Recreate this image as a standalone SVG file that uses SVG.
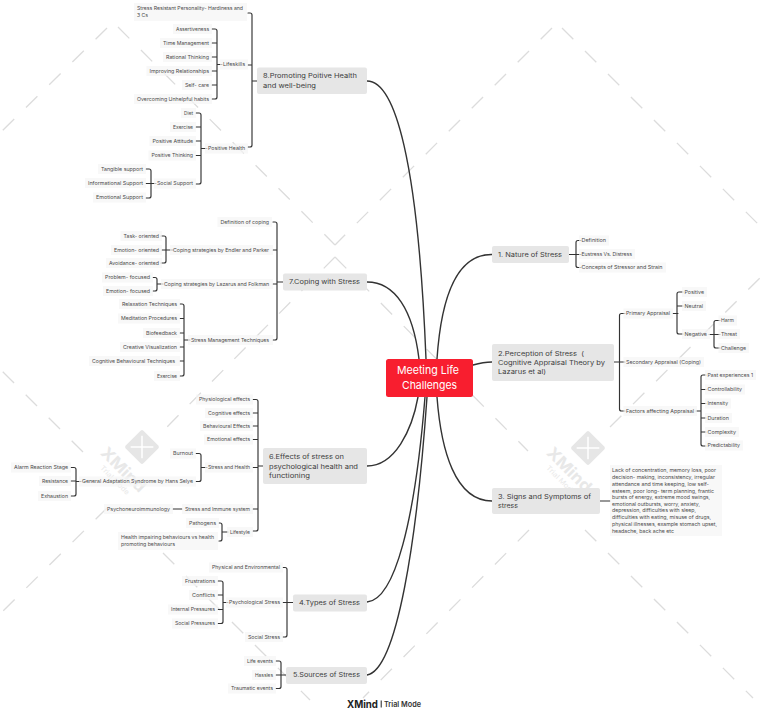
<svg xmlns="http://www.w3.org/2000/svg" width="768" height="713" viewBox="0 0 768 713">
<style>
text{font-family:"Inter","Noto Sans","DejaVu Sans",sans-serif;fill:#3a3a3a}
.s{font-size:4.900px;fill:#4a4a4a}
.t{font-size:6.700px;fill:#3c3c3c}
.b{fill:#f5f5f5;fill-opacity:.7}
.m{fill:#e6e6e6}
.c{fill:none;stroke:#333;stroke-width:1.150;stroke-linecap:round}
.k{fill:none;stroke:#333;stroke-width:1.400;stroke-linecap:round}
.w{fill:none;stroke:#dcdcdc;stroke-width:1.300;stroke-dasharray:16 16.500}
.wt{fill:#e8e8e8}
</style>
<rect width="768" height="713" fill="#fff"/>
<g id="watermark">
<path class="w" d="M107 28L-1 134"/>
<path class="w" d="M118 27L335 245"/>
<path class="w" d="M552 28L335 245"/>
<path class="w" d="M562 28L768 234"/>
<path class="w" style="stroke-dasharray:16 15.800" d="M335 257L167 427"/>
<path class="w" d="M335 257L528 451"/>
<path class="w" d="M83 452L0 369"/>
<path class="w" d="M107 508L0 614"/>
<path class="w" d="M163 553L310 700"/>
<path class="w" d="M610 427L768 270"/>
<path class="w" d="M529 530L363 698"/>
<path class="w" d="M585 530L753 698"/>
<g transform="translate(142 447) rotate(45)"><rect x="-12.500" y="-12.500" width="25" height="25" rx="2" fill="#e6e6e6"/><path d="M-8-8Q-1-1 8 8M-8 8Q0 0 8-8" stroke="#fff" stroke-width="1.500" fill="none"/></g>
<text class="wt" transform="translate(123 470) rotate(45)" text-anchor="middle" y="5" style="font-size:16px;font-weight:700" textLength="56" lengthAdjust="spacingAndGlyphs">XMind</text>
<text class="wt" transform="translate(115 480) rotate(45)" text-anchor="middle" y="2.500" style="font-size:7px" textLength="38" lengthAdjust="spacingAndGlyphs">Trial Mode</text>
<g transform="translate(588 448) rotate(45)"><rect x="-12.500" y="-12.500" width="25" height="25" rx="2" fill="#e6e6e6"/><path d="M-8-8Q-1-1 8 8M-8 8Q0 0 8-8" stroke="#fff" stroke-width="1.500" fill="none"/></g>
<text class="wt" transform="translate(569 470) rotate(45)" text-anchor="middle" y="5" style="font-size:16px;font-weight:700" textLength="56" lengthAdjust="spacingAndGlyphs">XMind</text>
<text class="wt" transform="translate(561 480) rotate(45)" text-anchor="middle" y="2.500" style="font-size:7px" textLength="38" lengthAdjust="spacingAndGlyphs">Trial Mode</text>
</g>
<g id="connectors">
<path class="k" d="M437 359C441 300 455 254 492 254.500"/>
<path class="k" d="M473 365C480 363 484 362 492 362"/>
<path class="k" d="M437 397C441 450 455 501 492 501"/>
<path class="k" d="M367 81C395 81 418 160 426 359"/>
<path class="k" d="M367 282C395 282 413 310 419 359"/>
<path class="k" d="M367 466C395 466 412 430 418 397"/>
<path class="k" d="M367 602C395 600 415 520 425 397"/>
<path class="k" d="M367 675C397 670 417 540 427 397"/>
<path class="c" d="M248 13h2q2 0 2 2V145q0 2-2 2h-2M248 65h4M252 81h5"/>
<path class="c" d="M212 29h3q2 0 2 2V97q0 2-2 2h-3M212 43h5M212 57h5M212 71h5M212 85h5M217 64.500h5"/>
<path class="c" d="M196 113h3q2 0 2 2V182q0 2-2 2h-3M196 127h5M196 141h5M196 155.500h5M201 148.500h6"/>
<path class="c" d="M146 169h3q2 0 2 2V196q0 2-2 2h-3M146 183.500h10"/>
<path class="c" d="M273 222h2q2 0 2 2V338q0 2-2 2h-2M273 250h4M273 284h4M277 282h6"/>
<path class="c" d="M161 236h3q2 0 2 2V261q0 2-2 2h-3M162 250h11"/>
<path class="c" d="M153 277.500h2q2 0 2 2V289q0 2-2 2h-2M157 284h6"/>
<path class="c" d="M180 304h2q2 0 2 2V374q0 2-2 2h-2M180 318.500h4M180 333h4M180 347h4M180 361h4M184 340h6"/>
<path class="c" d="M253 399.500h3q2 0 2 2V529q0 2-2 2h-3M253 413h5M253 426h5M253 439.500h5M253 467.500h5M253 509h5M258 466h5"/>
<path class="c" d="M196 453.500h3q2 0 2 2V479.500q0 2-2 2h-3M201 467.500h6"/>
<path class="c" d="M71 467.500h3q2 0 2 2V494q0 2-2 2h-3M71 481h5M76 481.500h5"/>
<path class="c" d="M173 509h9"/>
<path class="c" d="M219 523h1q2 0 2 2V539q0 2-2 2h-1M222 532h6"/>
<path class="c" d="M283 567.500h2q2 0 2 2V635q0 2-2 2h-2M283 602.500h10"/>
<path class="c" d="M218 581h3q2 0 2 2V621.500q0 2-2 2h-3M218 595h5M218 609.500h5M223 602.500h5"/>
<path class="c" d="M276 661h3q2 0 2 2V686.500q0 2-2 2h-3M276 675h10"/>
<path class="c" d="M569 254.500h12M581 240.500h-3q-2 0-2 2V265.500q0 2 2 2h3"/>
<path class="c" d="M614 362h11M625 313.500h-3.500q-2 0-2 2V409q0 2 2 2h3.500"/>
<path class="c" d="M673 313.500h5M683 292h-4q-2 0-2 2V332q0 2 2 2h4M677 306h6"/>
<path class="c" d="M709 334.500h11M720 320.500h-4q-2 0-2 2V346q0 2 2 2h4"/>
<path class="c" d="M696 411h5M706 375h-3q-2 0-2 2V444q0 2 2 2h3M701 389.500h5M701 403.500h5M701 418h5M701 432h5"/>
<path class="c" d="M600 501h10"/>
</g>
<g id="center"><rect x="386" y="359" width="87" height="38" rx="2.500" fill="#f81e2f"/><text x="397" y="374" textLength="62" lengthAdjust="spacingAndGlyphs" style="font-size:11px;fill:#fff">Meeting Life</text><text x="402" y="388.500" textLength="55" lengthAdjust="spacingAndGlyphs" style="font-size:11px;fill:#fff">Challenges</text></g>
<g id="topic1"><rect class="m" x="492" y="246" width="77" height="17" rx="2"/><text class="t" x="498" y="257" textLength="64" lengthAdjust="spacingAndGlyphs">1. Nature of Stress</text></g>
<g id="topic2"><rect class="m" x="492" y="344" width="122" height="37" rx="2"/><text class="t" xml:space="preserve" x="498" y="355.500" textLength="86" lengthAdjust="spacingAndGlyphs">2.Perception of Stress  (</text><text class="t" x="498" y="364.500" textLength="107" lengthAdjust="spacingAndGlyphs">Cognitive Appraisal Theory by</text><text class="t" x="498" y="373.500" textLength="48" lengthAdjust="spacingAndGlyphs">Lazarus et al)</text></g>
<g id="topic3"><rect class="m" x="492" y="488" width="108" height="26" rx="2"/><text class="t" x="498" y="499" textLength="93" lengthAdjust="spacingAndGlyphs">3. Signs and Symptoms of</text><text class="t" x="498" y="508" textLength="20" lengthAdjust="spacingAndGlyphs">stress</text></g>
<g id="topic4"><rect class="m" x="293" y="594.500" width="74" height="17" rx="2"/><text class="t" x="299" y="605" textLength="61" lengthAdjust="spacingAndGlyphs">4.Types of Stress</text></g>
<g id="topic5"><rect class="m" x="286" y="667" width="81" height="17" rx="2"/><text class="t" x="293" y="677" textLength="67" lengthAdjust="spacingAndGlyphs">5.Sources of Stress</text></g>
<g id="topic6"><rect class="m" x="263" y="448" width="104" height="36" rx="2"/><text class="t" x="269" y="459" textLength="75" lengthAdjust="spacingAndGlyphs">6.Effects of stress on</text><text class="t" x="269" y="468.500" textLength="89" lengthAdjust="spacingAndGlyphs">psychological health and</text><text class="t" x="269" y="478" textLength="41" lengthAdjust="spacingAndGlyphs">functioning</text></g>
<g id="topic7"><rect class="m" x="283" y="273.500" width="84" height="17" rx="2"/><text class="t" x="289" y="284" textLength="71" lengthAdjust="spacingAndGlyphs">7.Coping with Stress</text></g>
<g id="topic8"><rect class="m" x="257" y="67.500" width="110" height="26.500" rx="2"/><text class="t" x="263" y="77.500" textLength="94" lengthAdjust="spacingAndGlyphs">8.Promoting Poitive Health</text><text class="t" x="263" y="88" textLength="53" lengthAdjust="spacingAndGlyphs">and well-being</text></g>
<g id="leaves-8">
<g id="l1"><rect class="b" x="134" y="3" width="113" height="18"/><text class="s" x="137" y="9.800" textLength="106" lengthAdjust="spacingAndGlyphs">Stress Resistant Personality- Hardiness and</text><text class="s" x="137" y="17.300" textLength="11" lengthAdjust="spacingAndGlyphs">3 Cs</text></g>
<g id="l2"><rect class="b" x="173" y="24" width="39" height="10"/><text class="s" x="176" y="30.800" textLength="33" lengthAdjust="spacingAndGlyphs">Assertiveness</text></g>
<g id="l3"><rect class="b" x="160" y="38" width="52" height="10"/><text class="s" x="163" y="44.800" textLength="46" lengthAdjust="spacingAndGlyphs">Time Management</text></g>
<g id="l4"><rect class="b" x="163" y="52" width="49" height="10"/><text class="s" x="166" y="58.800" textLength="43" lengthAdjust="spacingAndGlyphs">Rational Thinking</text></g>
<g id="l5"><rect class="b" x="146.500" y="66" width="65.500" height="10"/><text class="s" x="149.500" y="72.800" textLength="59.500" lengthAdjust="spacingAndGlyphs">Improving Relationships</text></g>
<g id="l6"><rect class="b" x="182" y="80" width="30" height="10"/><text class="s" x="185" y="86.800" textLength="24" lengthAdjust="spacingAndGlyphs">Self- care</text></g>
<g id="l7"><rect class="b" x="134" y="94" width="78" height="10"/><text class="s" x="137" y="100.800" textLength="72" lengthAdjust="spacingAndGlyphs">Overcoming Unhelpful habits</text></g>
<g id="l8"><rect class="b" x="220" y="59.500" width="28" height="10"/><text class="s" x="223" y="66.300" textLength="22" lengthAdjust="spacingAndGlyphs">Lifeskills</text></g>
<g id="l9"><rect class="b" x="205" y="143.500" width="43" height="10"/><text class="s" x="208" y="150.300" textLength="37" lengthAdjust="spacingAndGlyphs">Positive Health</text></g>
<g id="l10"><rect class="b" x="181" y="108" width="15" height="10"/><text class="s" x="184" y="114.800" textLength="9" lengthAdjust="spacingAndGlyphs">Diet</text></g>
<g id="l11"><rect class="b" x="170" y="122" width="26" height="10"/><text class="s" x="173" y="128.800" textLength="20" lengthAdjust="spacingAndGlyphs">Exercise</text></g>
<g id="l12"><rect class="b" x="149.500" y="136" width="46.500" height="10"/><text class="s" x="152.500" y="142.800" textLength="40.500" lengthAdjust="spacingAndGlyphs">Positive Attitude</text></g>
<g id="l13"><rect class="b" x="148.500" y="150.500" width="47.500" height="10"/><text class="s" x="151.500" y="157.300" textLength="41.500" lengthAdjust="spacingAndGlyphs">Positive Thinking</text></g>
<g id="l14"><rect class="b" x="154" y="178.500" width="42" height="10"/><text class="s" x="157" y="185.300" textLength="36" lengthAdjust="spacingAndGlyphs">Social Support</text></g>
<g id="l15"><rect class="b" x="98" y="164" width="48" height="10"/><text class="s" x="101" y="170.800" textLength="42" lengthAdjust="spacingAndGlyphs">Tangible support</text></g>
<g id="l16"><rect class="b" x="85" y="178" width="61" height="10"/><text class="s" x="88" y="184.800" textLength="55" lengthAdjust="spacingAndGlyphs">Informational Support</text></g>
<g id="l17"><rect class="b" x="93" y="192.500" width="53" height="10"/><text class="s" x="96" y="199.300" textLength="47" lengthAdjust="spacingAndGlyphs">Emotional Support</text></g>
</g>
<g id="leaves-7">
<g id="l18"><rect class="b" x="217.500" y="217" width="54.500" height="10"/><text class="s" x="220.500" y="223.800" textLength="48.500" lengthAdjust="spacingAndGlyphs">Definition of coping</text></g>
<g id="l19"><rect class="b" x="170" y="245" width="103" height="10"/><text class="s" x="173" y="251.800" textLength="96" lengthAdjust="spacingAndGlyphs">Coping strategies by Endler and Parker</text></g>
<g id="l20"><rect class="b" x="161" y="279" width="112" height="10"/><text class="s" x="164" y="285.800" textLength="105" lengthAdjust="spacingAndGlyphs">Coping strategies by Lazarus and Folkman</text></g>
<g id="l21"><rect class="b" x="188" y="335" width="85" height="10"/><text class="s" x="191" y="341.800" textLength="78" lengthAdjust="spacingAndGlyphs">Stress Management Techniques</text></g>
<g id="l22"><rect class="b" x="120.500" y="231" width="41.500" height="10"/><text class="s" x="123.500" y="237.800" textLength="35.500" lengthAdjust="spacingAndGlyphs">Task- oriented</text></g>
<g id="l23"><rect class="b" x="111" y="245" width="51" height="10"/><text class="s" x="114" y="251.800" textLength="45" lengthAdjust="spacingAndGlyphs">Emotion- oriented</text></g>
<g id="l24"><rect class="b" x="106" y="258" width="56" height="10"/><text class="s" x="109" y="264.800" textLength="50" lengthAdjust="spacingAndGlyphs">Avoidance- oriented</text></g>
<g id="l25"><rect class="b" x="102" y="272.500" width="51" height="10"/><text class="s" x="105" y="279.300" textLength="45" lengthAdjust="spacingAndGlyphs">Problem- focused</text></g>
<g id="l26"><rect class="b" x="103" y="286" width="50" height="10"/><text class="s" x="106" y="292.800" textLength="44" lengthAdjust="spacingAndGlyphs">Emotion- focused</text></g>
<g id="l27"><rect class="b" x="119" y="299" width="61" height="10"/><text class="s" x="122" y="305.800" textLength="55" lengthAdjust="spacingAndGlyphs">Relaxation Techniques</text></g>
<g id="l28"><rect class="b" x="118" y="313.500" width="62" height="10"/><text class="s" x="121" y="320.300" textLength="56" lengthAdjust="spacingAndGlyphs">Meditation Procedures</text></g>
<g id="l29"><rect class="b" x="143" y="328" width="37" height="10"/><text class="s" x="146" y="334.800" textLength="31" lengthAdjust="spacingAndGlyphs">Biofeedback</text></g>
<g id="l30"><rect class="b" x="120" y="342" width="60" height="10"/><text class="s" x="123" y="348.800" textLength="54" lengthAdjust="spacingAndGlyphs">Creative Visualization</text></g>
<g id="l31"><rect class="b" x="89" y="356" width="91" height="10"/><text class="s" x="92" y="362.800" textLength="83" lengthAdjust="spacingAndGlyphs">Cognitive Behavioural Techniques</text></g>
<g id="l32"><rect class="b" x="154" y="371" width="26" height="10"/><text class="s" x="157" y="377.800" textLength="20" lengthAdjust="spacingAndGlyphs">Exercise</text></g>
</g>
<g id="leaves-6">
<g id="l33"><rect class="b" x="196" y="394.500" width="57" height="10"/><text class="s" x="199" y="401.300" textLength="51" lengthAdjust="spacingAndGlyphs">Physiological effects</text></g>
<g id="l34"><rect class="b" x="205" y="408" width="48" height="10"/><text class="s" x="208" y="414.800" textLength="42" lengthAdjust="spacingAndGlyphs">Cognitive effects</text></g>
<g id="l35"><rect class="b" x="200" y="421" width="53" height="10"/><text class="s" x="203" y="427.800" textLength="47" lengthAdjust="spacingAndGlyphs">Behavioural Effects</text></g>
<g id="l36"><rect class="b" x="204" y="434.500" width="49" height="10"/><text class="s" x="207" y="441.300" textLength="43" lengthAdjust="spacingAndGlyphs">Emotional effects</text></g>
<g id="l37"><rect class="b" x="170" y="448.500" width="26" height="10"/><text class="s" x="173" y="455.300" textLength="20" lengthAdjust="spacingAndGlyphs">Burnout</text></g>
<g id="l38"><rect class="b" x="205" y="462.500" width="48" height="10"/><text class="s" x="208" y="469.300" textLength="42" lengthAdjust="spacingAndGlyphs">Stress and Health</text></g>
<g id="l39"><rect class="b" x="79" y="476.500" width="117" height="10"/><text class="s" x="82" y="483.300" textLength="111" lengthAdjust="spacingAndGlyphs">General Adaptation Syndrome by Hans Selye</text></g>
<g id="l40"><rect class="b" x="11" y="462.500" width="60" height="10"/><text class="s" x="14" y="469.300" textLength="54" lengthAdjust="spacingAndGlyphs">Alarm Reaction Stage</text></g>
<g id="l41"><rect class="b" x="39" y="476" width="32" height="10"/><text class="s" x="42" y="482.800" textLength="26" lengthAdjust="spacingAndGlyphs">Resistance</text></g>
<g id="l42"><rect class="b" x="38" y="491" width="33" height="10"/><text class="s" x="41" y="497.800" textLength="27" lengthAdjust="spacingAndGlyphs">Exhaustion</text></g>
<g id="l43"><rect class="b" x="104" y="504" width="69" height="10"/><text class="s" x="107" y="510.800" textLength="63" lengthAdjust="spacingAndGlyphs">Psychoneuroimmunology</text></g>
<g id="l44"><rect class="b" x="182" y="504" width="71" height="10"/><text class="s" x="185" y="510.800" textLength="65" lengthAdjust="spacingAndGlyphs">Stress and Immune system</text></g>
<g id="l45"><rect class="b" x="186" y="518" width="33" height="10"/><text class="s" x="189" y="524.800" textLength="27" lengthAdjust="spacingAndGlyphs">Pathogens</text></g>
<g id="l46"><rect class="b" x="118" y="532" width="100" height="18"/><text class="s" x="121" y="538.800" textLength="93" lengthAdjust="spacingAndGlyphs">Health impairing behaviours vs health</text><text class="s" x="121" y="546.300" textLength="54" lengthAdjust="spacingAndGlyphs">promoting behaviours</text></g>
<g id="l47"><rect class="b" x="227" y="527" width="26" height="10"/><text class="s" x="230" y="533.800" textLength="20" lengthAdjust="spacingAndGlyphs">Lifestyle</text></g>
</g>
<g id="leaves-4-5">
<g id="l48"><rect class="b" x="209" y="562.500" width="74" height="10"/><text class="s" x="212" y="569.300" textLength="68" lengthAdjust="spacingAndGlyphs">Physical and Environmental</text></g>
<g id="l49"><rect class="b" x="182" y="576" width="36" height="10"/><text class="s" x="185" y="582.800" textLength="30" lengthAdjust="spacingAndGlyphs">Frustrations</text></g>
<g id="l50"><rect class="b" x="189" y="590" width="29" height="10"/><text class="s" x="192" y="596.800" textLength="23" lengthAdjust="spacingAndGlyphs">Conflicts</text></g>
<g id="l51"><rect class="b" x="168" y="604.500" width="50" height="10"/><text class="s" x="171" y="611.300" textLength="44" lengthAdjust="spacingAndGlyphs">Internal Pressures</text></g>
<g id="l52"><rect class="b" x="172" y="618.500" width="46" height="10"/><text class="s" x="175" y="625.300" textLength="40" lengthAdjust="spacingAndGlyphs">Social Pressures</text></g>
<g id="l53"><rect class="b" x="226" y="597.500" width="57" height="10"/><text class="s" x="229" y="604.300" textLength="51" lengthAdjust="spacingAndGlyphs">Psychological Stress</text></g>
<g id="l54"><rect class="b" x="245" y="632" width="38" height="10"/><text class="s" x="248" y="638.800" textLength="32" lengthAdjust="spacingAndGlyphs">Social Stress</text></g>
<g id="l55"><rect class="b" x="244" y="656" width="32" height="10"/><text class="s" x="247" y="662.800" textLength="26" lengthAdjust="spacingAndGlyphs">Life events</text></g>
<g id="l56"><rect class="b" x="252" y="670" width="24" height="10"/><text class="s" x="255" y="676.800" textLength="18" lengthAdjust="spacingAndGlyphs">Hassles</text></g>
<g id="l57"><rect class="b" x="228" y="683.500" width="48" height="10"/><text class="s" x="231" y="690.300" textLength="42" lengthAdjust="spacingAndGlyphs">Traumatic events</text></g>
</g>
<g id="leaves-right">
<g id="r1"><rect class="b" x="579" y="235.500" width="30" height="10"/><text class="s" x="581.500" y="242.300" textLength="24.500" lengthAdjust="spacingAndGlyphs">Definition</text></g>
<g id="r2"><rect class="b" x="579" y="249" width="56" height="10"/><text class="s" x="581.500" y="255.800" textLength="50.500" lengthAdjust="spacingAndGlyphs">Eustress Vs. Distress</text></g>
<g id="r3"><rect class="b" x="579" y="262.500" width="87" height="10"/><text class="s" x="581.500" y="269.300" textLength="81" lengthAdjust="spacingAndGlyphs">Concepts of Stressor and Strain</text></g>
<g id="r4"><rect class="b" x="623.500" y="308.500" width="49.500" height="10"/><text class="s" x="626" y="315.300" textLength="44" lengthAdjust="spacingAndGlyphs">Primary Appraisal</text></g>
<g id="r5"><rect class="b" x="623.500" y="357" width="80.500" height="10"/><text class="s" x="626" y="363.800" textLength="75" lengthAdjust="spacingAndGlyphs">Secondary Appraisal (Coping)</text></g>
<g id="r6"><rect class="b" x="623.500" y="406" width="73.500" height="10"/><text class="s" x="626" y="412.800" textLength="68" lengthAdjust="spacingAndGlyphs">Factors affecting Appraisal</text></g>
<g id="r7"><rect class="b" x="682" y="287" width="25" height="10"/><text class="s" x="684.500" y="293.800" textLength="19.500" lengthAdjust="spacingAndGlyphs">Positive</text></g>
<g id="r8"><rect class="b" x="682" y="301" width="24" height="10"/><text class="s" x="684.500" y="307.800" textLength="18.500" lengthAdjust="spacingAndGlyphs">Neutral</text></g>
<g id="r9"><rect class="b" x="682" y="329" width="28" height="10"/><text class="s" x="684.500" y="335.800" textLength="22.500" lengthAdjust="spacingAndGlyphs">Negative</text></g>
<g id="r10"><rect class="b" x="718.500" y="315.500" width="18.500" height="10"/><text class="s" x="721" y="322.300" textLength="13" lengthAdjust="spacingAndGlyphs">Harm</text></g>
<g id="r11"><rect class="b" x="718.500" y="329" width="21.500" height="10"/><text class="s" x="721" y="335.800" textLength="16" lengthAdjust="spacingAndGlyphs">Threat</text></g>
<g id="r12"><rect class="b" x="718.500" y="343" width="30.500" height="10"/><text class="s" x="721" y="349.800" textLength="25" lengthAdjust="spacingAndGlyphs">Challenge</text></g>
<g id="r13"><rect class="b" x="705" y="370" width="51" height="10"/><text class="s" x="707.500" y="376.800" textLength="45.500" lengthAdjust="spacingAndGlyphs">Past experiences 1</text></g>
<g id="r14"><rect class="b" x="705" y="384.500" width="40" height="10"/><text class="s" x="707.500" y="391.300" textLength="34.500" lengthAdjust="spacingAndGlyphs">Controllability</text></g>
<g id="r15"><rect class="b" x="705" y="398.500" width="26" height="10"/><text class="s" x="707.500" y="405.300" textLength="20.500" lengthAdjust="spacingAndGlyphs">Intensity</text></g>
<g id="r16"><rect class="b" x="705" y="413" width="27" height="10"/><text class="s" x="707.500" y="419.800" textLength="21.500" lengthAdjust="spacingAndGlyphs">Duration</text></g>
<g id="r17"><rect class="b" x="705" y="427" width="34" height="10"/><text class="s" x="707.500" y="433.800" textLength="28.500" lengthAdjust="spacingAndGlyphs">Complexity</text></g>
<g id="r18"><rect class="b" x="705" y="440.500" width="38" height="10"/><text class="s" x="707.500" y="447.300" textLength="32.500" lengthAdjust="spacingAndGlyphs">Predictability</text></g>
<g id="r19"><rect class="b" x="610" y="465" width="112" height="71"/>
<text class="s" x="612" y="471.800" textLength="104" lengthAdjust="spacingAndGlyphs">Lack of concentration, memory loss, poor</text>
<text class="s" x="612" y="479" textLength="103" lengthAdjust="spacingAndGlyphs">decision- making, inconsistency, irregular</text>
<text class="s" x="612" y="485.500" textLength="97" lengthAdjust="spacingAndGlyphs">attendance and time keeping, low self-</text>
<text class="s" x="612" y="492.800" textLength="102" lengthAdjust="spacingAndGlyphs">esteem, poor long- term planning, frantic</text>
<text class="s" x="612" y="498.800" textLength="98" lengthAdjust="spacingAndGlyphs">bursts of energy, extreme mood swings,</text>
<text class="s" x="612" y="505.800" textLength="88" lengthAdjust="spacingAndGlyphs">emotional outbursts, worry, anxiety,</text>
<text class="s" x="612" y="511.800" textLength="84" lengthAdjust="spacingAndGlyphs">depression, difficulties with sleep,</text>
<text class="s" x="612" y="518.800" textLength="99" lengthAdjust="spacingAndGlyphs">difficulties with eating, misuse of drugs,</text>
<text class="s" x="612" y="525.500" textLength="105" lengthAdjust="spacingAndGlyphs">physical illnesses, example stomach upset,</text>
<text class="s" x="612" y="532.500" textLength="62" lengthAdjust="spacingAndGlyphs">headache, back ache etc</text></g>
</g>
<g id="footer">
<text x="347" y="707.500" textLength="31" lengthAdjust="spacingAndGlyphs" style="font-size:10px;font-weight:700;fill:#222">XMind</text>
<rect x="380.700" y="700.500" width="1" height="7" fill="#222"/>
<text x="384" y="707" textLength="37" lengthAdjust="spacingAndGlyphs" style="font-size:7.500px;font-weight:600;fill:#333">Trial Mode</text>
</g>
</svg>
